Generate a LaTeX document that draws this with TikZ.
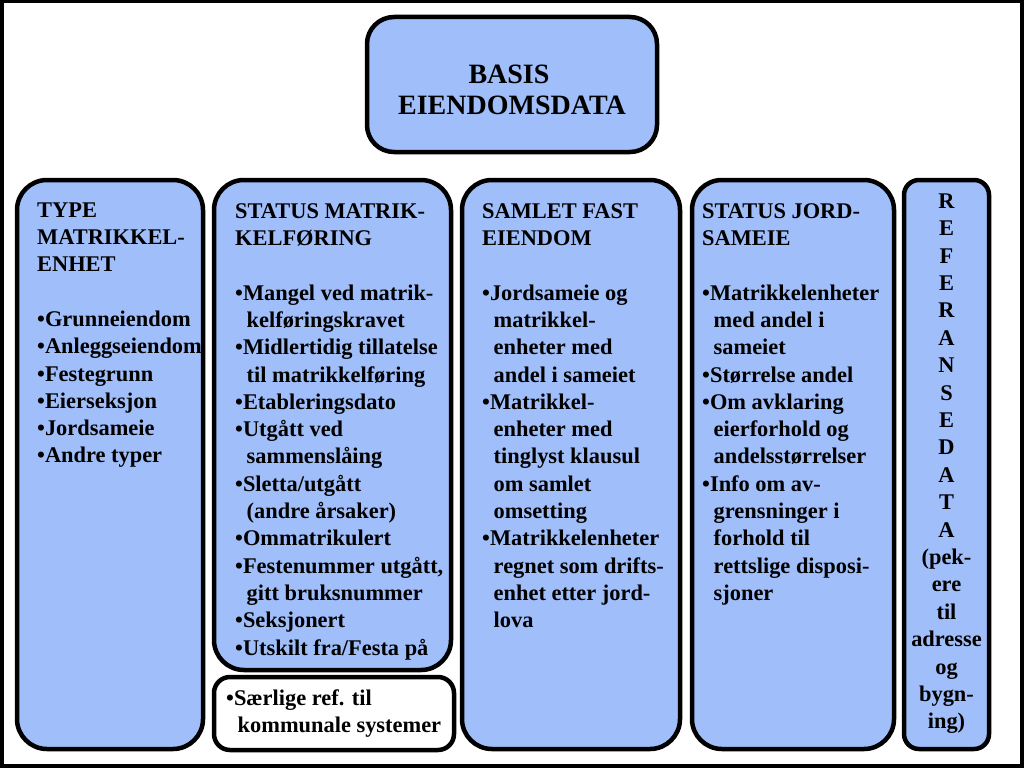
\documentclass[tikz,border=0pt]{standalone}
\usepackage{fontspec}
\setmainfont{Liberation Serif}
\definecolor{boxblue}{RGB}{160,190,250}
\newcommand{\ind}{\hspace*{11.5pt}}
\newcommand{\fs}{\rule{0pt}{20pt}}
\begin{document}
\begin{tikzpicture}[x=1pt,y=-1pt,
  panel/.style={draw=black,line width=4.5pt,fill=boxblue,rectangle,inner sep=0pt,rounded corners=#1},
  panel/.default=30pt,
  whitepanel/.style={draw=black,line width=4.5pt,fill=white,rectangle,inner sep=0pt,rounded corners=16pt},
  body/.style={inner sep=0pt,align=left,anchor=north west,font=\fontsize{22.4pt}{27.3pt}\selectfont\bfseries},
  vbody/.style={inner sep=0pt,align=center,anchor=north,font=\fontsize{22.4pt}{27.4pt}\selectfont\bfseries},
  title/.style={inner sep=0pt,align=center,anchor=north,font=\fontsize{28pt}{31pt}\selectfont\bfseries}]
\useasboundingbox (0,0) rectangle (1024,768);
\fill[white] (0,0) rectangle (1024,768);
\draw[line width=4pt] (1.5,1.5) rectangle (1022,766);

% boxes
\node[panel=27pt,minimum width=290pt,minimum height=135pt] (b0) at (512,84.5) {};
\node[panel,minimum width=186pt,minimum height=569pt] (b1) at (110,464.5) {};
\node[panel,minimum width=237pt,minimum height=490pt] (b2) at (332.5,425) {};
\node[whitepanel,minimum width=240pt,minimum height=73pt] (bw) at (334,713.5) {};
\node[panel,minimum width=218pt,minimum height=569pt] (b3) at (571,464.5) {};
\node[panel,minimum width=202pt,minimum height=569pt] (b4) at (793,464.5) {};
\node[panel=15pt,minimum width=85pt,minimum height=569pt] (b5) at (946.5,464.5) {};

% texts
\node[title] (t0) at (512,59) {\rule{0pt}{24pt}BASIS\hspace*{6pt}\\EIENDOMSDATA};

\node[body] (t1) at (37,197) {\fs TYPE\\MATRIKKEL-\\ENHET\\[27.3pt]
•Grunneiendom\\•Anleggseiendom\\•Festegrunn\\•Eierseksjon\\•Jordsameie\\•Andre typer};

\node[body] (t2) at (235,198) {\fs STATUS MATRIK-\\KELFØRING\\[27.3pt]
•Mangel ved matrik-\\\ind kelføringskravet\\•Midlertidig tillatelse\\\ind til matrikkelføring\\
•Etableringsdato\\•Utgått ved\\\ind sammenslåing\\•Sletta/utgått\\\ind (andre årsaker)\\
•Ommatrikulert\\•Festenummer utgått,\\\ind gitt bruksnummer\\•Seksjonert\\•Utskilt fra/Festa på};

\node[body] (tw) at (226,685) {\fs •Særlige ref. til\\\ind kommunale systemer};

\node[body] (t3) at (482,198) {\fs SAMLET FAST\\EIENDOM\\[27.3pt]
•Jordsameie og\\\ind matrikkel-\\\ind enheter med\\\ind andel i sameiet\\
•Matrikkel-\\\ind enheter med\\\ind tinglyst klausul\\\ind om samlet\\\ind omsetting\\
•Matrikkelenheter\\\ind regnet som drifts-\\\ind enhet etter jord-\\\ind lova};

\node[body] (t4) at (702,198) {\fs STATUS JORD-\\SAMEIE\\[27.3pt]
•Matrikkelenheter\\\ind med andel i\\\ind sameiet\\•Størrelse andel\\•Om avklaring\\\ind eierforhold og\\\ind andelsstørrelser\\
•Info om av-\\\ind grensninger i\\\ind forhold til\\\ind rettslige disposi-\\\ind sjoner};

\node[vbody] (t5) at (946.5,188) {\fs R\\E\\F\\E\\R\\A\\N\\S\\E\\D\\A\\T\\A\\(pek-\\ere\\til\\adresse\\og\\bygn-\\ing)};
\end{tikzpicture}
\end{document}
